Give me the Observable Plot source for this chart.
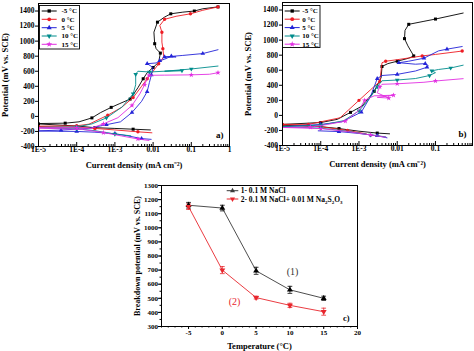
<!DOCTYPE html>
<html><head><meta charset="utf-8">
<script src="https://cdn.jsdelivr.net/npm/d3@7"></script>
<script src="https://cdn.jsdelivr.net/npm/@observablehq/plot@0.6"></script>
<style>
body{margin:0;background:#fff;}
#wrap{position:relative;width:474px;height:351px;overflow:hidden;font-family:"Liberation Serif",serif;background:#fff;}
</style></head><body><div id="wrap"></div>
<script>
// ---------- legend labels & colours ----------
const tempLabels = ["-5 °C", "0 °C", "5 °C", "10 °C", "15 °C"];
const seriesColors = ["#000000", "#ee1c24", "#2424d8", "#008c8c", "#e22fe2"];

// ---------- panel a: [current density (mA cm-2), potential (mV)] ----------
const a_m5_cath = [[0.0085,-180],[0.003,-170],[1e-3,-160],[3e-4,-150],[1e-4,-128],[1e-5,-100]];
const a_m5_anod = [[1e-5,-95],[5e-5,-90],[1.15e-4,-72],[2.5e-4,-20],[4.2e-4,50],[8e-4,120],[1.35e-3,171],[2.5e-3,230],[4e-3,380],[5.5e-3,500],[7e-3,580],[0.01,650],[0.014,720],[0.0155,841],[0.012,900],[0.011,966],[0.0105,1119],[0.013,1252],[0.02,1320],[0.029,1363],[0.06,1385],[0.12,1400],[0.2,1430],[0.5,1455]];
const a_0_cath = [[0.0093,-218],[0.004,-205],[1e-3,-180],[3e-4,-160],[1e-4,-145],[1e-5,-135]];
const a_0_anod = [[1e-5,-130],[1e-4,-125],[2.1e-4,-103],[6.5e-4,16],[1.5e-3,120],[3e-3,250],[5e-3,400],[7e-3,500],[0.01,600],[0.014,700],[0.019,790],[0.018,900],[0.017,987],[0.017,1119],[0.015,1208],[0.02,1290],[0.04,1330],[0.095,1363],[0.2,1410],[0.5,1455]];
const a_5_cath = [[0.0089,-305],[0.005,-295],[2e-3,-255],[1e-3,-230],[3e-4,-210],[1e-4,-200],[1e-5,-195]];
const a_5_anod = [[1e-5,-192],[3.9e-5,-182],[2e-4,-160],[6e-4,-110],[1.4e-3,-72],[2.8e-3,52],[5e-3,200],[7e-3,330],[8e-3,450],[0.009,550],[0.01,650],[0.007,700],[0.012,710],[0.015,740],[0.02,760],[0.03,800],[0.04,790],[0.02,790],[0.06,810],[0.2,835],[0.5,886]];
const a_10_cath = [[0.0026,-258],[1e-3,-235],[3e-4,-190],[1e-4,-165],[1e-5,-150]];
const a_10_anod = [[1e-5,-145],[1e-4,-140],[2.5e-4,-100],[6e-4,-20],[1.55e-3,126],[3e-3,300],[3.5e-3,420],[3.5e-3,560],[4e-3,600],[0.008,590],[0.03,605],[0.057,608],[0.02,600],[0.1,630],[0.5,669]];
const a_15_cath = [[0.0078,-320],[0.004,-300],[1.5e-3,-260],[5e-4,-215],[1.5e-4,-175],[1e-5,-155]];
const a_15_anod = [[1e-5,-150],[1e-4,-150],[2.3e-4,-160],[5e-4,-100],[1.2e-3,-17],[2.8e-3,145],[4.5e-3,300],[6e-3,420],[7e-3,500],[0.0078,546],[0.02,548],[0.1,552],[0.3,560],[0.5,580]];

// ---------- panel b ----------
const b_m5_cath = [[0.0063,-245],[0.003,-235],[1e-3,-210],[3e-4,-175],[1e-4,-150],[1e-5,-130]];
const b_m5_anod = [[1e-5,-120],[1e-4,-95],[2.7e-4,-53],[6e-4,40],[1.2e-3,124],[2.5e-3,320],[3.8e-3,502],[4e-3,650],[5.7e-3,688],[0.01,720],[0.02,760],[0.027,790],[0.019,924],[0.0155,1020],[0.016,1130],[0.02,1210],[0.05,1250],[0.1,1280],[0.53,1360]];
const b_0_cath = [[1.55e-3,-245],[5e-4,-200],[1e-4,-150],[1e-5,-120]];
const b_0_anod = [[1e-5,-118],[4.7e-5,-120],[3.2e-4,-32],[1e-3,200],[2e-3,340],[3.5e-3,450],[4e-3,700],[0.005,720],[0.01,740],[0.045,790],[0.1,810],[0.5,855]];
const b_5_cath = [[5.4e-3,-298],[3e-3,-270],[1e-3,-240],[3e-4,-215],[8.6e-5,-205]];
const b_5_anod = [[1e-5,-150],[1e-4,-120],[3.6e-4,-85],[1.15e-3,44],[2e-3,250],[3e-3,488],[4e-3,530],[0.01,545],[0.03,590],[0.06,640],[0.065,660],[0.054,688],[0.03,680],[0.011,700],[0.02,720],[0.05,760],[0.12,857],[0.2,880],[0.5,915]];
const b_10_cath = [[5e-3,-285],[2e-3,-260],[5e-4,-210],[1e-4,-170],[1e-5,-150]];
const b_10_anod = [[1e-5,-148],[1e-4,-130],[4e-4,-70],[1e-3,60],[2e-3,240],[3e-3,380],[4e-3,460],[0.01,470],[0.03,490],[0.07,530],[0.1,568],[0.08,592],[0.12,610],[0.25,630],[0.53,667]];
const b_15_cath = [[5e-3,-290],[2e-3,-260],[5e-4,-215],[1e-4,-175],[1e-5,-160]];
const b_15_anod = [[1e-5,-160],[5.4e-5,-156],[1.5e-4,-120],[4.4e-4,-76],[1e-3,67],[1.4e-3,200],[2.5e-3,260],[0.008,268],[3e-3,240],[0.006,230],[3e-3,300],[3.5e-3,380],[4e-3,413],[0.01,420],[0.05,440],[0.1,457],[0.53,488]];

// ---------- panel c ----------
const temps = [-5, 0, 5, 10, 15];
const nacl = [1160, 1140, 695, 560, 500];
const naclErr = [20, 20, 25, 25, 15];
const thio = [1150, 700, 505, 450, 405];
const thioErr = [20, 25, 10, 15, 25];
const cLegend = ["1- 0.1 M NaCl", "2- 0.1 M NaCl+ 0.01 M Na"];
const cAnno = [{t: 10.4, v: 690, label: "(1)", c: "#333"}, {t: 1.8, v: 475, label: "(2)", c: "#e8262d"}];

// ---------- ticks ----------
const xMajor = [1e-5, 1e-4, 1e-3, 0.01, 0.1, 1];
const xMajorLabels = ["1E-5", "1E-4", "1E-3", "0.01", "0.1", "1"];
const yTicksAB = [-400, -200, 0, 200, 400, 600, 800, 1000, 1200, 1400];

// ---------- symbols ----------
const sqrt3 = Math.sqrt(3);
const triDown = {draw(ctx, size) {const y = -Math.sqrt(size / (sqrt3 * 3)); ctx.moveTo(0, -y * 2); ctx.lineTo(-sqrt3 * y, y); ctx.lineTo(sqrt3 * y, y); ctx.closePath();}};
const triUp = {draw(ctx, size) {const y = -Math.sqrt(size / (sqrt3 * 3)); ctx.moveTo(0, y * 2); ctx.lineTo(-sqrt3 * y, -y); ctx.lineTo(sqrt3 * y, -y); ctx.closePath();}};
const seriesSymbols = ["square", "circle", triUp, triDown, "star"];
const d3Symbols = [d3.symbolSquare, d3.symbolCircle, triUp, triDown, d3.symbolStar];

const wrap = document.getElementById("wrap");
function place(node, left, top) {node.style.position = "absolute"; node.style.left = left + "px"; node.style.top = top + "px"; wrap.appendChild(node);}

const baseStyle = {fontFamily: "Liberation Serif", fontWeight: "bold", fontSize: "7.5px", color: "#000", background: "transparent", overflow: "visible"};
const labelMap = new Map(xMajor.map((d, i) => [d, xMajorLabels[i]]));
function minorLog() {const t = []; for (let e = -5; e < 0; e++) for (let k = 2; k < 10; k++) t.push(+(k * Math.pow(10, e)).toPrecision(3)); return t;}

function toRows(arr) {return arr.map(([c, p], i) => ({c, p, i}));}

function polPanel(sets, opts) {
  const marks = [];
  sets.forEach((pair, s) => {
    pair.forEach(arr => {
      const rows = toRows(arr);
      marks.push(Plot.line(rows, {x: "c", y: "p", stroke: seriesColors[s], strokeWidth: 0.9, clip: true}));
      marks.push(Plot.dot(rows.filter(d => d.i % 2 === 1), {x: "c", y: "p", symbol: () => seriesSymbols[s], fill: seriesColors[s], stroke: "none", r: 1.7, clip: true}));
    });
  });
  return Plot.plot({
    width: opts.width, height: opts.height,
    marginLeft: opts.ml, marginRight: opts.mr, marginTop: opts.mt, marginBottom: opts.mb,
    x: {type: "log", domain: opts.xd},
    y: {domain: [-400, 1500]},
    symbol: {type: "identity"},
    style: baseStyle,
    marks: [
      ...marks,
      Plot.frame({stroke: "#000", strokeWidth: 1}),
      Plot.axisX(minorLog().filter(d => d <= opts.xd[1]), {tickSize: -2, text: null, label: null}),
      Plot.axisX(xMajor.filter(d => d <= opts.xd[1]), {tickSize: -4, tickPadding: 4.5, tickFormat: d => labelMap.get(d), label: null}),
      Plot.axisY(yTicksAB, {tickSize: 3, tickPadding: opts.tp, tickFormat: d => String(d), label: null}),
      Plot.text(["Potential (mV vs. SCE)"], {frameAnchor: "left", dx: opts.ytdx, rotate: -90, textAnchor: "middle", lineAnchor: "middle", fontSize: 8.5}),
      Plot.text(["Current density (mA cm⁻²)"], {frameAnchor: "bottom", dy: 19, lineAnchor: "middle", fontSize: 8.5}),
      Plot.text([opts.tag], {frameAnchor: "bottom-right", dx: -6, dy: -9, fontSize: 9})
    ]
  });
}

const pa = polPanel([[a_m5_cath, a_m5_anod], [a_0_cath, a_0_anod], [a_5_cath, a_5_anod], [a_10_cath, a_10_anod], [a_15_cath, a_15_anod]],
  {width: 237, height: 172, ml: 38, mr: 8, mt: 3, mb: 26, xd: [1e-5, 1], tp: 1, ytdx: -33, tag: "a)"});
place(pa, 0, 0);
const pb = polPanel([[b_m5_cath, b_m5_anod], [b_0_cath, b_0_anod], [b_5_cath, b_5_anod], [b_10_cath, b_10_anod], [b_15_cath, b_15_anod]],
  {width: 237, height: 172, ml: 45, mr: 2, mt: 2, mb: 27, xd: [1e-5, 0.93], tp: 1.5, ytdx: -34, tag: "b)"});
place(pb, 237, 0);

// ---------- panel c ----------
const rowsC1 = temps.map((t, i) => ({t, v: nacl[i], e: naclErr[i]}));
const rowsC2 = temps.map((t, i) => ({t, v: thio[i], e: thioErr[i]}));
const cRed = "#e8262d";
function errMarks(rows, col) {
  return [
    Plot.ruleX(rows, {x: "t", y1: d => d.v - d.e, y2: d => d.v + d.e, stroke: col, strokeWidth: 0.8}),
    Plot.link(rows, {x1: d => d.t - 0.35, x2: d => d.t + 0.35, y1: d => d.v + d.e, y2: d => d.v + d.e, stroke: col, strokeWidth: 0.8}),
    Plot.link(rows, {x1: d => d.t - 0.35, x2: d => d.t + 0.35, y1: d => d.v - d.e, y2: d => d.v - d.e, stroke: col, strokeWidth: 0.8})
  ];
}
const xMinorC = d3.range(-9, 21, 1);
const yMinorC = d3.range(300, 1301, 50);
const pc = Plot.plot({
  width: 280, height: 179, marginLeft: 61, marginRight: 23, marginTop: 13, marginBottom: 25,
  x: {domain: [-9, 20]},
  y: {domain: [300, 1300]},
  symbol: {type: "identity"},
  style: {...baseStyle, fontSize: "7px"},
  marks: [
    Plot.line(rowsC1, {x: "t", y: "v", stroke: "#3a3a3a", strokeWidth: 0.9}),
    Plot.line(rowsC2, {x: "t", y: "v", stroke: cRed, strokeWidth: 0.9}),
    ...errMarks(rowsC1, "#000"),
    ...errMarks(rowsC2, cRed),
    Plot.dot(rowsC1, {x: "t", y: "v", symbol: () => triUp, fill: "#000", r: 2.2}),
    Plot.dot(rowsC2, {x: "t", y: "v", symbol: () => triDown, fill: cRed, r: 2.2}),
    Plot.text(cAnno, {x: "t", y: "v", text: "label", fill: "c", fontSize: 10, fontWeight: "normal"}),
    Plot.frame({stroke: "#000", strokeWidth: 1}),
    Plot.axisX(xMinorC, {tickSize: 1.5, text: null, label: null}),
    Plot.axisX([-5, 0, 5, 10, 15, 20], {tickSize: 3, tickPadding: 0.5, tickFormat: d => String(d), label: null}),
    Plot.axisY(yMinorC, {tickSize: 1.5, text: null, label: null}),
    Plot.axisY(d3.range(300, 1301, 100), {tickSize: 3, tickPadding: 0.5, tickFormat: d => String(d), label: null}),
    Plot.text(["Breakdown potential (mV vs. SCE)"], {frameAnchor: "left", dx: -24, rotate: -90, textAnchor: "middle", lineAnchor: "middle", fontSize: 8}),
    Plot.text(["Temperature (°C)"], {frameAnchor: "bottom", dy: 20, lineAnchor: "middle", fontSize: 8.5}),
    Plot.text(["c)"], {frameAnchor: "bottom-right", dx: -8, dy: -6, fontSize: 8.5})
  ]
});
place(pc, 100, 172);

// ---------- legends ----------
function legend(left, top, w, h, rowsY, lx0, lx1, tx, labels, cols, syms, box, fs) {
  const svg = d3.create("svg").attr("width", w).attr("height", h).style("overflow", "visible")
    .style("font-family", "Liberation Serif").style("font-weight", "bold").style("font-size", fs + "px");
  if (box) svg.append("rect").attr("x", 0.5).attr("y", 0.5).attr("width", w - 1).attr("height", h - 1).attr("fill", "#fff").attr("stroke", "#000").attr("stroke-width", 0.9);
  labels.forEach((lab, i) => {
    const y = rowsY[i];
    svg.append("line").attr("x1", lx0).attr("x2", lx1).attr("y1", y).attr("y2", y).attr("stroke", cols[i]).attr("stroke-width", 1);
    svg.append("path").attr("d", d3.symbol(syms[i], 11)()).attr("transform", `translate(${(lx0 + lx1) / 2},${y})`).attr("fill", cols[i]);
    const t = svg.append("text").attr("x", tx).attr("y", y).attr("dy", "0.35em").attr("fill", "#000");
    if (typeof lab === "string") t.text(lab); else lab(t);
  });
  place(svg.node(), left, top);
}
legend(39, 5, 41, 44.5, [6, 14.3, 22.7, 31, 39.3], 2.7, 17.7, 22.5, tempLabels, seriesColors, d3Symbols, true, 7);
legend(282, 5, 38.5, 43, [6, 14.2, 22.6, 31, 39.2], 2.7, 17.7, 20.3, tempLabels, seriesColors, d3Symbols, true, 7);
legend(226, 186, 140, 18, [4.7, 13], 0.7, 12.3, 14.7,
  [cLegend[0], t => {t.text(cLegend[1]); t.append("tspan").attr("font-size", "5px").attr("dy", "2").text("2");
    t.append("tspan").attr("dy", "-2").text("S"); t.append("tspan").attr("font-size", "5px").attr("dy", "2").text("2");
    t.append("tspan").attr("dy", "-2").text("O"); t.append("tspan").attr("font-size", "5px").attr("dy", "2").text("3");}],
  ["#3a3a3a", cRed], [triUp, triDown], false, 7.5);
</script></body></html>
